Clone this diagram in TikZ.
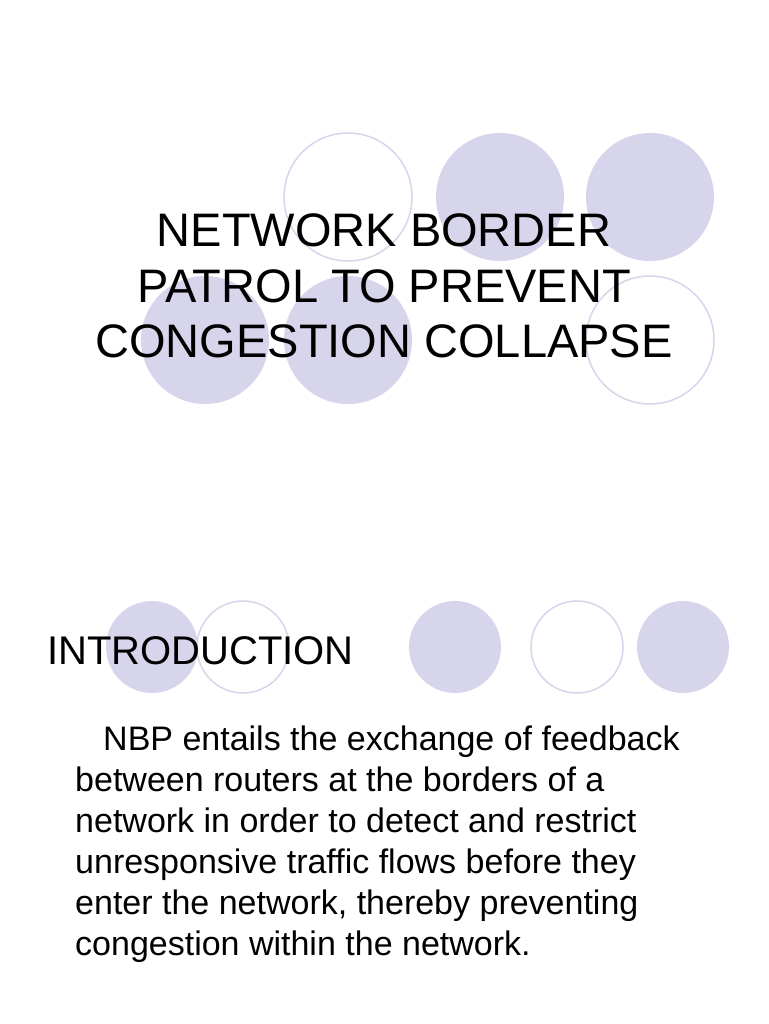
\documentclass[tikz,border=0pt]{standalone}
\usepackage{fontspec}
\setmainfont{Liberation Sans}
\definecolor{lav}{HTML}{D7D5EB}
\begin{document}
\begin{tikzpicture}[x=1pt,y=-1pt,
  fc/.style={fill=lav,draw=none},
  oc/.style={draw=lav,line width=1.5pt,fill=none},
  ttl/.style={anchor=base,inner sep=0,font=\fontsize{47}{56}\selectfont},
  body/.style={anchor=base west,font=\fontsize{34}{40}\selectfont,inner sep=0}]
\fill[white] (0,0) rectangle (768,1024);
\fill[fc] (500,197) circle (64);
\fill[fc] (650,197) circle (64);
\fill[fc] (205,340) circle (64);
\fill[fc] (348,340) circle (64);
\draw[oc] (348,197) circle (64);
\draw[oc] (650,340) circle (64);
\fill[fc] (152,647) circle (46);
\draw[oc] (243,647) circle (46);
\fill[fc] (455,647) circle (46);
\draw[oc] (577,647) circle (46);
\fill[fc] (683,647) circle (46);
\node[ttl] (t1) at (384,247) {NETWORK BORDER};
\node[ttl] (t2) at (384,302) {PATROL TO PREVENT};
\node[ttl] (t3) at (384,357) {CONGESTION COLLAPSE};
\node[anchor=base west,inner sep=0,font=\fontsize{40}{48}\selectfont] (h) at (47,664) {INTRODUCTION};
\node[body] (l1) at (103,750) {NBP entails the exchange of feedback};
\node[body] (l2) at (75,791) {between routers at the borders of a};
\node[body] (l3) at (75,832) {network in order to detect and restrict};
\node[body] (l4) at (75,873) {unresponsive traffic flows before they};
\node[body] (l5) at (75,914) {enter the network, thereby preventing};
\node[body] (l6) at (75,955) {congestion within the network.};
\end{tikzpicture}
\end{document}
